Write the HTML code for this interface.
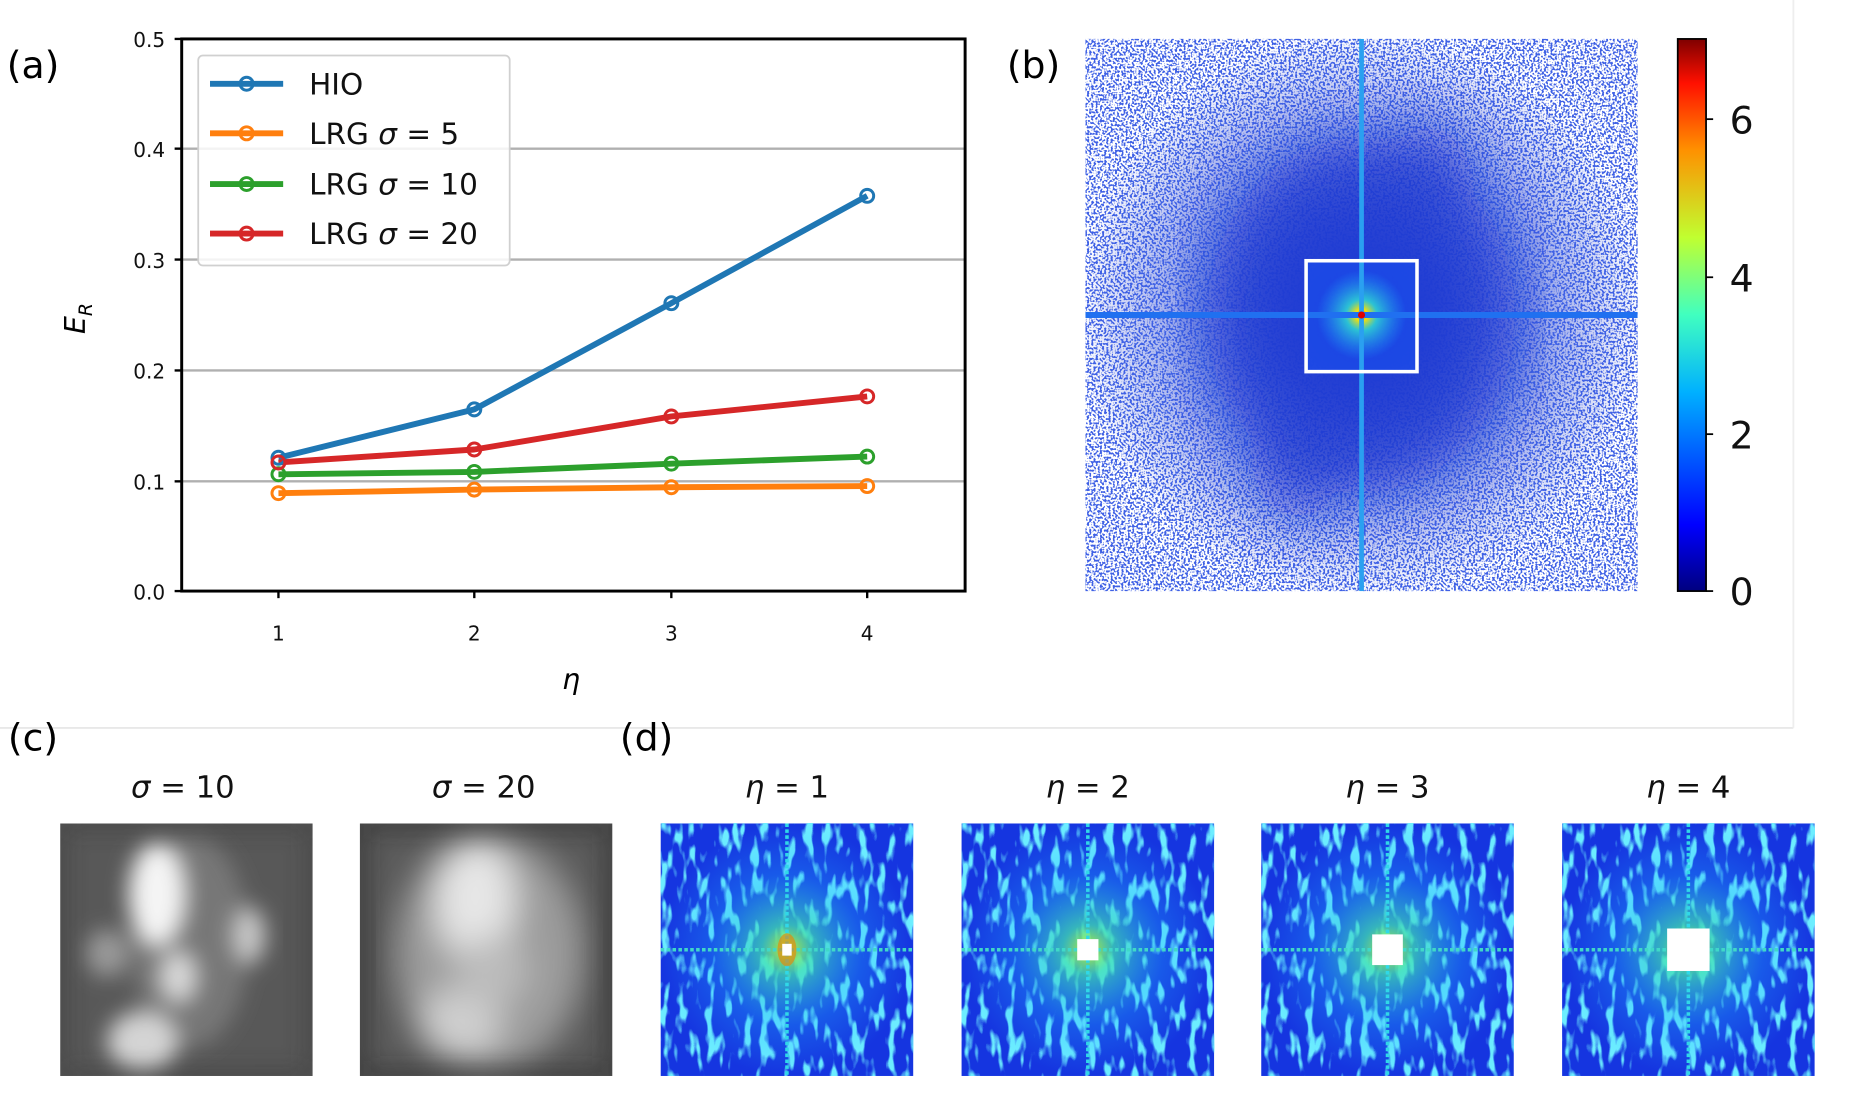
<!DOCTYPE html>
<html><head><meta charset="utf-8"><style>
html,body{margin:0;padding:0;background:#fff;}
svg{display:block;}
text{font-family:"DejaVu Sans","Liberation Sans",sans-serif;}
</style></head><body>
<svg width="1850" height="1109" viewBox="0 0 1568 940" preserveAspectRatio="none" xmlns="http://www.w3.org/2000/svg">
<defs>
 <filter id="speck" x="0" y="0" width="100%" height="100%">
  <feTurbulence type="fractalNoise" baseFrequency="0.55" numOctaves="1" seed="3"/>
  <feColorMatrix type="matrix" values="0 0 0 0 0.05  0 0 0 0 0.12  0 0 0 0 0.78  10 0 0 0 -4.8"/>
 </filter>
 <filter id="wavy" x="0" y="0" width="100%" height="100%">
  <feTurbulence type="fractalNoise" baseFrequency="0.13 0.045" numOctaves="2" seed="7"/>
  <feColorMatrix type="matrix" values="0 0 0 0 0.15  0 0 0 0 0.85  0 0 0 0 1  7 0 0 0 -3.7"/>
 </filter>
 <filter id="bl20"><feGaussianBlur stdDeviation="25"/></filter>
 <radialGradient id="bcen" cx="0.5" cy="0.5" r="0.5">
  <stop offset="0" stop-color="#1040e8" stop-opacity="0.95"/>
  <stop offset="0.55" stop-color="#1030d0" stop-opacity="0.55"/>
  <stop offset="1" stop-color="#1030d0" stop-opacity="0"/>
 </radialGradient>
 <radialGradient id="hot" cx="0.5" cy="0.5" r="0.5">
  <stop offset="0" stop-color="#ff0000"/>
  <stop offset="0.12" stop-color="#ffe000"/>
  <stop offset="0.35" stop-color="#30e0d0" stop-opacity="0.8"/>
  <stop offset="1" stop-color="#20a0ff" stop-opacity="0"/>
 </radialGradient>
 <radialGradient id="dcen" cx="0.5" cy="0.5" r="0.5">
  <stop offset="0" stop-color="#c0f030"/>
  <stop offset="0.2" stop-color="#40e0b0" stop-opacity="0.75"/>
  <stop offset="0.6" stop-color="#20b0ff" stop-opacity="0.3"/>
  <stop offset="1" stop-color="#20b0ff" stop-opacity="0"/>
 </radialGradient>
 <linearGradient id="jet" x1="0" y1="1" x2="0" y2="0">
  <stop offset="0" stop-color="#00007f"/>
  <stop offset="0.12" stop-color="#0000ff"/>
  <stop offset="0.36" stop-color="#00b0ff"/>
  <stop offset="0.5" stop-color="#40ffc0"/>
  <stop offset="0.64" stop-color="#c0ff30"/>
  <stop offset="0.8" stop-color="#ff9000"/>
  <stop offset="0.92" stop-color="#ff1000"/>
  <stop offset="1" stop-color="#7f0000"/>
 </linearGradient>
 <filter id="blur8"><feGaussianBlur stdDeviation="9"/></filter>
 <filter id="blur14"><feGaussianBlur stdDeviation="14"/></filter>
 <g id="dimg">
  <rect width="214" height="214" fill="#1535e0"/>
  <rect width="214" height="214" fill="#fff" filter="url(#wavy)"/>
  <rect width="214" height="214" fill="url(#dcen)"/>
  <line x1="107" y1="0" x2="107" y2="214" stroke="#30d8e8" stroke-width="3" stroke-dasharray="3 2"/>
  <line x1="0" y1="107" x2="214" y2="107" stroke="#40d8c8" stroke-width="3" stroke-dasharray="3 2"/>
 </g>
</defs>

<line x1="0" y1="617" x2="1520" y2="617" stroke="#e8e8e8" stroke-width="1.5"/>
<line x1="1520" y1="0" x2="1520" y2="617" stroke="#eeeeee" stroke-width="1.5"/>

<text x="28" y="66" font-size="32" text-anchor="middle">(a)</text>
<g stroke="#b0b0b0" stroke-width="2">
 <line x1="154" y1="408" x2="818" y2="408"/>
 <line x1="154" y1="314" x2="818" y2="314"/>
 <line x1="154" y1="220" x2="818" y2="220"/>
 <line x1="154" y1="126" x2="818" y2="126"/>
</g>
<rect x="154" y="33" width="664" height="468" fill="none" stroke="#000" stroke-width="2.5"/>
<g stroke="#000" stroke-width="2">
 <line x1="148" y1="501" x2="154" y2="501"/><line x1="148" y1="408" x2="154" y2="408"/>
 <line x1="148" y1="314" x2="154" y2="314"/><line x1="148" y1="220" x2="154" y2="220"/>
 <line x1="148" y1="126" x2="154" y2="126"/><line x1="148" y1="33" x2="154" y2="33"/>
 <line x1="236" y1="501" x2="236" y2="507"/><line x1="402" y1="501" x2="402" y2="507"/>
 <line x1="569" y1="501" x2="569" y2="507"/><line x1="735" y1="501" x2="735" y2="507"/>
</g>
<g font-size="17" text-anchor="end" fill="#111">
 <text x="140" y="508">0.0</text><text x="140" y="415">0.1</text><text x="140" y="321">0.2</text>
 <text x="140" y="227">0.3</text><text x="140" y="133">0.4</text><text x="140" y="40">0.5</text>
</g>
<g font-size="17" text-anchor="middle" fill="#111">
 <text x="236" y="543">1</text><text x="402" y="543">2</text><text x="569" y="543">3</text><text x="735" y="543">4</text>
</g>
<text x="484" y="584" font-size="24" font-style="italic" text-anchor="middle">η</text>
<text transform="translate(72,270) rotate(-90)" font-size="24" font-style="italic" text-anchor="middle">E<tspan font-size="16" dy="6">R</tspan></text>

<g fill="none" stroke-width="5" stroke-linejoin="round">
 <polyline points="236,418 402,415 569,413 735,412" stroke="#ff7f0e"/>
 <polyline points="236,402 402,400 569,393 735,387" stroke="#2ca02c"/>
 <polyline points="236,388 402,347 569,257 735,166" stroke="#1f77b4"/>
 <polyline points="236,392 402,381 569,353 735,336" stroke="#d62728"/>
</g>
<g fill="none" stroke-width="2.5">
 <g stroke="#ff7f0e"><circle cx="236" cy="418" r="5.5"/><circle cx="402" cy="415" r="5.5"/><circle cx="569" cy="413" r="5.5"/><circle cx="735" cy="412" r="5.5"/></g>
 <g stroke="#2ca02c"><circle cx="236" cy="402" r="5.5"/><circle cx="402" cy="400" r="5.5"/><circle cx="569" cy="393" r="5.5"/><circle cx="735" cy="387" r="5.5"/></g>
 <g stroke="#1f77b4"><circle cx="236" cy="388" r="5.5"/><circle cx="402" cy="347" r="5.5"/><circle cx="569" cy="257" r="5.5"/><circle cx="735" cy="166" r="5.5"/></g>
 <g stroke="#d62728"><circle cx="236" cy="392" r="5.5"/><circle cx="402" cy="381" r="5.5"/><circle cx="569" cy="353" r="5.5"/><circle cx="735" cy="336" r="5.5"/></g>
</g>

<rect x="168" y="47" width="264" height="178" rx="4" fill="#fff" fill-opacity="0.85" stroke="#d0d0d0" stroke-width="1.5"/>
<g stroke-width="5">
 <line x1="178" y1="71" x2="240" y2="71" stroke="#1f77b4"/>
 <line x1="178" y1="113" x2="240" y2="113" stroke="#ff7f0e"/>
 <line x1="178" y1="156" x2="240" y2="156" stroke="#2ca02c"/>
 <line x1="178" y1="198" x2="240" y2="198" stroke="#d62728"/>
</g>
<g fill="none" stroke-width="2.5">
 <circle cx="209" cy="71" r="5.5" stroke="#1f77b4"/><circle cx="209" cy="113" r="5.5" stroke="#ff7f0e"/>
 <circle cx="209" cy="156" r="5.5" stroke="#2ca02c"/><circle cx="209" cy="198" r="5.5" stroke="#d62728"/>
</g>
<g font-size="25" fill="#111">
 <text x="262" y="80">HIO</text>
 <text x="262" y="122">LRG <tspan font-style="italic">σ</tspan> = 5</text>
 <text x="262" y="165">LRG <tspan font-style="italic">σ</tspan> = 10</text>
 <text x="262" y="207">LRG <tspan font-style="italic">σ</tspan> = 20</text>
</g>

<text x="876" y="66" font-size="32" text-anchor="middle">(b)</text>
<svg x="920" y="33" width="468" height="468" viewBox="0 0 468 468">
 <rect width="468" height="468" fill="#fff"/>
 <ellipse cx="234" cy="234" rx="240" ry="240" fill="url(#bcen)"/>
 <rect width="468" height="468" fill="#fff" filter="url(#speck)"/>
 <g filter="url(#bl20)" fill="#0c28c8" opacity="0.6">
  <ellipse cx="234" cy="234" rx="130" ry="150"/>
  <ellipse cx="290" cy="140" rx="40" ry="70"/>
  <ellipse cx="180" cy="340" rx="40" ry="70"/>
 </g>
 <rect x="187" y="188" width="94" height="94" fill="#1a50f0" opacity="0.6"/>
 <ellipse cx="234" cy="234" rx="38" ry="38" fill="url(#hot)"/>
 <line x1="234" y1="0" x2="234" y2="468" stroke="#2aa0f0" stroke-width="4"/>
 <line x1="0" y1="234" x2="468" y2="234" stroke="#2070f0" stroke-width="5"/>
 <circle cx="234" cy="234" r="3" fill="#e00000"/>
 <rect x="187" y="188" width="94" height="94" fill="none" stroke="#fff" stroke-width="3"/>
</svg>
<rect x="1422" y="33" width="24" height="468" fill="url(#jet)" stroke="#000" stroke-width="1.5"/>
<g stroke="#000" stroke-width="1.5">
 <line x1="1446" y1="501" x2="1452" y2="501"/><line x1="1446" y1="368" x2="1452" y2="368"/>
 <line x1="1446" y1="235" x2="1452" y2="235"/><line x1="1446" y1="101" x2="1452" y2="101"/>
</g>
<g font-size="32" fill="#111">
 <text x="1466" y="513">0</text><text x="1466" y="380">2</text><text x="1466" y="247">4</text><text x="1466" y="113">6</text>
</g>

<text x="28" y="636" font-size="32" text-anchor="middle">(c)</text>
<g font-size="26" text-anchor="middle" fill="#111">
 <text x="155" y="676"><tspan font-style="italic">σ</tspan> = 10</text>
 <text x="410" y="676"><tspan font-style="italic">σ</tspan> = 20</text>
</g>
<svg x="51" y="698" width="214" height="214" viewBox="0 0 214 214">
 <rect width="214" height="214" fill="#585858"/>
 <g filter="url(#blur8)">
  <ellipse cx="110" cy="100" rx="50" ry="90" fill="#8c8c8c" opacity="0.6"/>
  <ellipse cx="82" cy="60" rx="24" ry="44" fill="#f4f4f4"/>
  <ellipse cx="100" cy="130" rx="16" ry="22" fill="#d8d8d8"/>
  <ellipse cx="70" cy="185" rx="30" ry="26" fill="#d4d4d4"/>
  <ellipse cx="160" cy="95" rx="14" ry="24" fill="#c8c8c8"/>
  <ellipse cx="40" cy="110" rx="18" ry="20" fill="#9a9a9a"/>
 </g>
 <rect width="214" height="214" fill="none" stroke="#333" stroke-width="10" opacity="0.5" filter="url(#blur8)"/>
</svg>
<svg x="305" y="698" width="214" height="214" viewBox="0 0 214 214">
 <rect width="214" height="214" fill="#5a5a5a"/>
 <g filter="url(#blur14)">
  <ellipse cx="110" cy="110" rx="80" ry="100" fill="#9c9c9c"/>
  <ellipse cx="98" cy="65" rx="34" ry="52" fill="#e6e6e6"/>
  <ellipse cx="85" cy="170" rx="35" ry="30" fill="#cfcfcf"/>
  <ellipse cx="112" cy="125" rx="30" ry="30" fill="#bcbcbc"/>
 </g>
 <rect width="214" height="214" fill="none" stroke="#222" stroke-width="14" opacity="0.5" filter="url(#blur8)"/>
</svg>

<text x="548" y="636" font-size="32" text-anchor="middle">(d)</text>
<g font-size="26" text-anchor="middle" fill="#111">
 <text x="667" y="676"><tspan font-style="italic">η</tspan> = 1</text>
 <text x="922" y="676"><tspan font-style="italic">η</tspan> = 2</text>
 <text x="1176" y="676"><tspan font-style="italic">η</tspan> = 3</text>
 <text x="1431" y="676"><tspan font-style="italic">η</tspan> = 4</text>
</g>
<use href="#dimg" x="560" y="698"/>
<use href="#dimg" x="815" y="698"/>
<use href="#dimg" x="1069" y="698"/>
<use href="#dimg" x="1324" y="698"/>
<ellipse cx="667" cy="805" rx="8" ry="14" fill="#f08000" opacity="0.6"/>
<rect x="663" y="800" width="8" height="10" fill="#fff"/>
<rect x="913" y="796" width="18" height="18" fill="#fff"/>
<rect x="1163" y="792" width="26" height="26" fill="#fff"/>
<rect x="1413" y="787" width="36" height="36" fill="#fff"/>
</svg>
</body></html>
